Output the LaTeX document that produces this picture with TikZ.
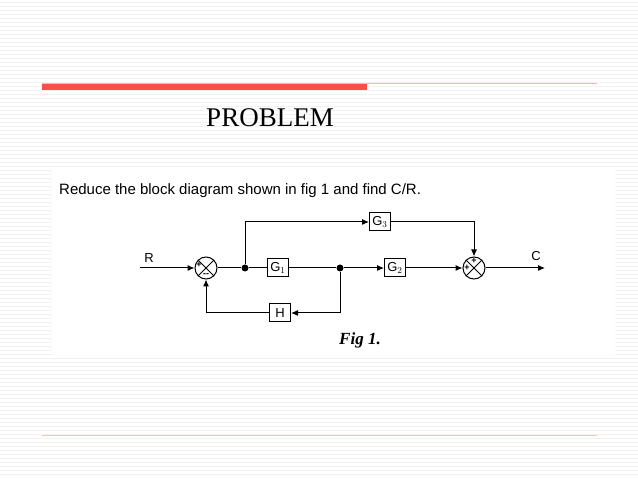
\documentclass[tikz,border=0pt]{standalone}
\usepackage{fontspec}
\usetikzlibrary{arrows.meta}
\setmainfont{Liberation Serif}
\newfontfamily\sansf{Liberation Sans}
\begin{document}
\begin{tikzpicture}[x=1pt,y=-1pt,>={Latex[length=7pt,width=6pt]},
 blk/.style={draw,line width=1pt,minimum width=21pt,minimum height=18pt,inner sep=1pt,font=\sansf\fontsize{13}{14}\selectfont},
 sumj/.style={draw,circle,line width=1pt,minimum size=22pt,inner sep=0pt},
 wire/.style={line width=1pt},
 sgn/.style={font=\sansf\fontsize{9}{9}\selectfont\bfseries,inner sep=0pt},
 dotn/.style={circle,fill,inner sep=0pt,minimum size=7pt}]
\useasboundingbox (0,0) rectangle (638,478);
\fill[white] (0,0) rectangle (638,478);
\foreach \y in {2,6,...,478} \draw[black!5,line width=0.3pt] (0,\y) -- (638,\y);
\draw[red!30,line width=0.6pt] (42,83) -- (597,83);
\fill[red!70!white] (42,84) rectangle (367,90);
\draw[red!25,line width=0.6pt] (42,435) -- (597,435);
\node (title) at (270,118) {\fontsize{27}{30}\selectfont PROBLEM};
\fill[white] (52,170) rectangle (615,355);
\node[anchor=west,font=\sansf\fontsize{15}{17}\selectfont,inner sep=0pt] (q) at (59,191) {Reduce the block diagram shown in fig 1 and find C/R.};
\coordinate (rin) at (140,268);
\node[font=\sansf\fontsize{13}{14}\selectfont] (R) at (149,258) {R};
\node[sumj] (s1) at (206,268) {};
\draw[wire] (s1.north west)--(s1.south east) (s1.north east)--(s1.south west);
\node[sgn] at (199,265) {+};
\node[sgn] at (206,275) {--};
\node[dotn] (d1) at (245,268) {};
\node[blk] (g1) at (278,268) {G$_1$};
\node[dotn] (d2) at (340,268) {};
\node[blk] (g2) at (395,268) {G$_2$};
\node[blk] (g3) at (380,222) {G$_3$};
\node[blk] (h) at (280,313) {H};
\node[sumj] (s2) at (474,268) {};
\draw[wire] (s2.north west)--(s2.south east) (s2.north east)--(s2.south west);
\node[sgn] at (474,261) {+};
\node[sgn] at (467,268) {+};
\coordinate (cout) at (545,268);
\node[font=\sansf\fontsize{13}{14}\selectfont] (C) at (536,256) {C};
\node[font=\bfseries\itshape\fontsize{17}{19}\selectfont] (fig) at (360,340) {Fig 1.};
\draw[wire,->] (rin) -- (s1);
\draw[wire] (s1) -- (d1) -- (g1) -- (d2);
\draw[wire,->] (d2) -- (g2);
\draw[wire,->] (g2) -- (s2);
\draw[wire,->] (s2) -- (cout);
\draw[wire,->] (d1) |- (g3);
\draw[wire,->] (g3) -| (s2);
\draw[wire,->] (d2) |- (h);
\draw[wire,->] (h) -| (s1);
\end{tikzpicture}
\end{document}
